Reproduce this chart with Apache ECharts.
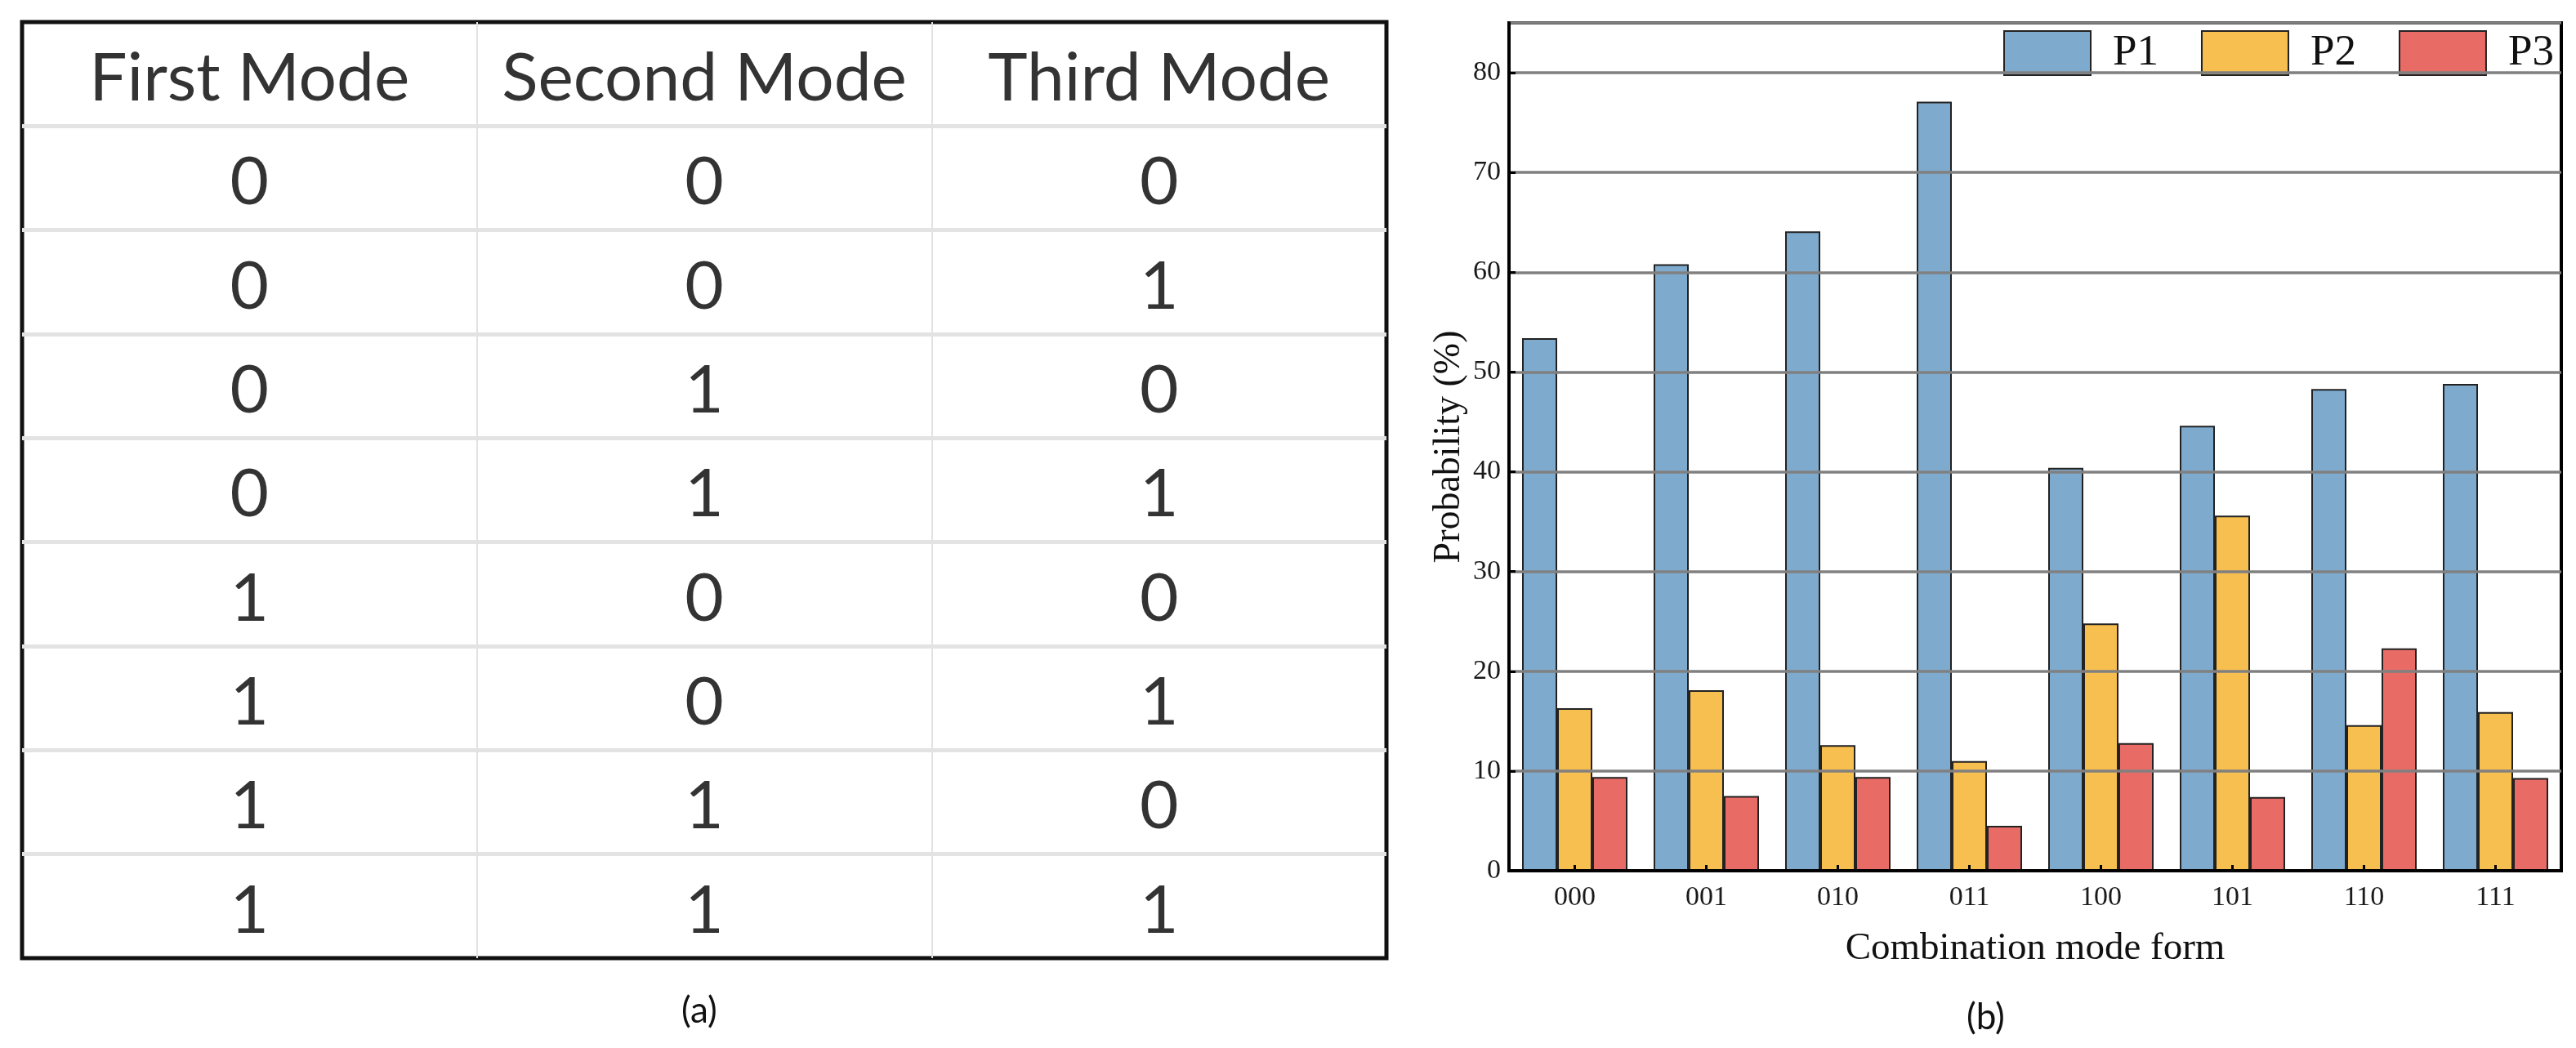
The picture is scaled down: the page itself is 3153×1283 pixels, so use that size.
<!DOCTYPE html>
<html>
<head>
<meta charset="utf-8">
<script src="https://cdn.jsdelivr.net/npm/echarts@6/dist/echarts.min.js"></script>
<style>
html,body{margin:0;padding:0;background:#fff;}
#chart{width:3153px;height:1283px;}
</style>
</head>
<body>
<div id="chart"></div>
<script>
// ---- Table (a) data ----
const tableHeader = ['First Mode', 'Second Mode', 'Third Mode'];
const tableRows = [
  [0, 0, 0],
  [0, 0, 1],
  [0, 1, 0],
  [0, 1, 1],
  [1, 0, 0],
  [1, 0, 1],
  [1, 1, 0],
  [1, 1, 1]
];
// ---- Chart (b) data ----
const categories = ['000', '001', '010', '011', '100', '101', '110', '111'];
const seriesNames = ['P1', 'P2', 'P3'];
const p1 = [53.4, 60.8, 64.1, 77.1, 40.4, 44.6, 48.3, 48.8];
const p2 = [16.3, 18.1, 12.6, 11.0, 24.8, 35.6, 14.6, 15.9];
const p3 = [9.4, 7.5, 9.4, 4.5, 12.8, 7.4, 22.3, 9.3];
const xAxisTitle = 'Combination mode form';
const yAxisTitle = 'Probability (%)';
const captions = ['(a)', '(b)'];

const colors = ['#7EAACE', '#F7BE50', '#E96B66'];
const serif = 'Liberation Serif';
const sans = 'Lato';

// table cells built from arrays
const tableRowKeys = ['h'].concat(tableRows.map((r, i) => 'r' + i));
const tableData = [];
tableHeader.forEach((h, c) => tableData.push([c, 0, h]));
tableRows.forEach((row, r) => row.forEach((v, c) => tableData.push([c, r + 1, String(v)])));

const chart = echarts.init(document.getElementById('chart'), null, {renderer: 'canvas'});

const option = {
  backgroundColor: '#ffffff',
  animation: false,
  grid: [
    {left: 1847, right: 18, top: 28, bottom: 217, show: true, borderColor: '#000', borderWidth: 4, containLabel: false},
    {left: 27, top: 27, width: 1670, height: 1146, show: true, borderColor: '#111', borderWidth: 5, backgroundColor: '#fff'}
  ],
  legend: {
    data: seriesNames,
    left: 2447,
    top: 32,
    itemWidth: 106,
    itemHeight: 54,
    itemGap: 52,
    icon: 'rect',
    selectedMode: false,
    textStyle: {fontFamily: serif, fontSize: 53, color: '#111', padding: [0, 0, 0, 22]}
  },
  xAxis: [
    {
      gridIndex: 0,
      type: 'category',
      data: categories,
      z: 5,
      boundaryGap: true,
      axisLine: {show: true, lineStyle: {color: '#000', width: 4}},
      axisTick: {show: true, alignWithLabel: true, inside: true, length: 7, lineStyle: {color: '#000', width: 3}},
      axisLabel: {fontFamily: serif, fontSize: 34, color: '#1a1a1a', margin: 16},
      splitLine: {show: false},
      name: xAxisTitle,
      nameLocation: 'middle',
      nameGap: 72,
      nameTextStyle: {fontFamily: serif, fontSize: 47, color: '#111'}
    },
    {
      gridIndex: 1,
      type: 'category',
      data: tableHeader,
      boundaryGap: true,
      axisLine: {show: false},
      axisTick: {show: false},
      axisLabel: {show: false},
      splitLine: {show: true, showMinLine: false, showMaxLine: false, lineStyle: {color: '#e2e2e2', width: 2}}
    }
  ],
  yAxis: [
    {
      gridIndex: 0,
      type: 'value',
      min: 0,
      max: 85,
      interval: 10,
      z: 5,
      axisLine: {show: true, lineStyle: {color: '#000', width: 4}},
      axisTick: {show: true, inside: true, length: 8, lineStyle: {color: '#000', width: 3}},
      axisLabel: {fontFamily: serif, fontSize: 34, color: '#1a1a1a', margin: 10, showMaxLabel: false},
      splitLine: {show: true, lineStyle: {color: '#808080', width: 3.5}},
      name: yAxisTitle,
      nameLocation: 'middle',
      nameGap: 50,
      nameTextStyle: {fontFamily: serif, fontSize: 46, color: '#111'}
    },
    {
      gridIndex: 1,
      type: 'category',
      data: tableRowKeys,
      inverse: true,
      boundaryGap: true,
      axisLine: {show: false},
      axisTick: {show: false},
      axisLabel: {show: false},
      splitLine: {show: true, showMinLine: false, showMaxLine: false, lineStyle: {color: '#e3e3e3', width: 5}}
    }
  ],
  series: [
    {name: seriesNames[0], type: 'bar', xAxisIndex: 0, yAxisIndex: 0, data: p1, barWidth: 43, barGap: '0%',
     itemStyle: {color: colors[0], borderColor: '#222', borderWidth: 2}},
    {name: seriesNames[1], type: 'bar', xAxisIndex: 0, yAxisIndex: 0, data: p2, barWidth: 43, barGap: '0%',
     itemStyle: {color: colors[1], borderColor: '#222', borderWidth: 2}},
    {name: seriesNames[2], type: 'bar', xAxisIndex: 0, yAxisIndex: 0, data: p3, barWidth: 43, barGap: '0%',
     itemStyle: {color: colors[2], borderColor: '#222', borderWidth: 2}},
    {
      name: 'table', type: 'scatter', xAxisIndex: 1, yAxisIndex: 1,
      data: tableData,
      symbolSize: 1,
      itemStyle: {color: 'rgba(0,0,0,0)'},
      silent: true,
      label: {
        show: true, position: 'inside',
        offset: [0, 6],
        formatter: p => p.value[2],
        fontFamily: sans, fontSize: 82, color: '#000'
      }
    }
  ],
  graphic: [
    {type: 'text', left: 864 - 30, top: 1242 - 26, style: {text: captions[0], fontFamily: sans, fontSize: 44, fill: '#111'}},
    {type: 'text', left: 2437 - 30, top: 1250 - 26, style: {text: captions[1], fontFamily: sans, fontSize: 44, fill: '#111'}}
  ]
};
chart.setOption(option);
</script>
</body>
</html>
